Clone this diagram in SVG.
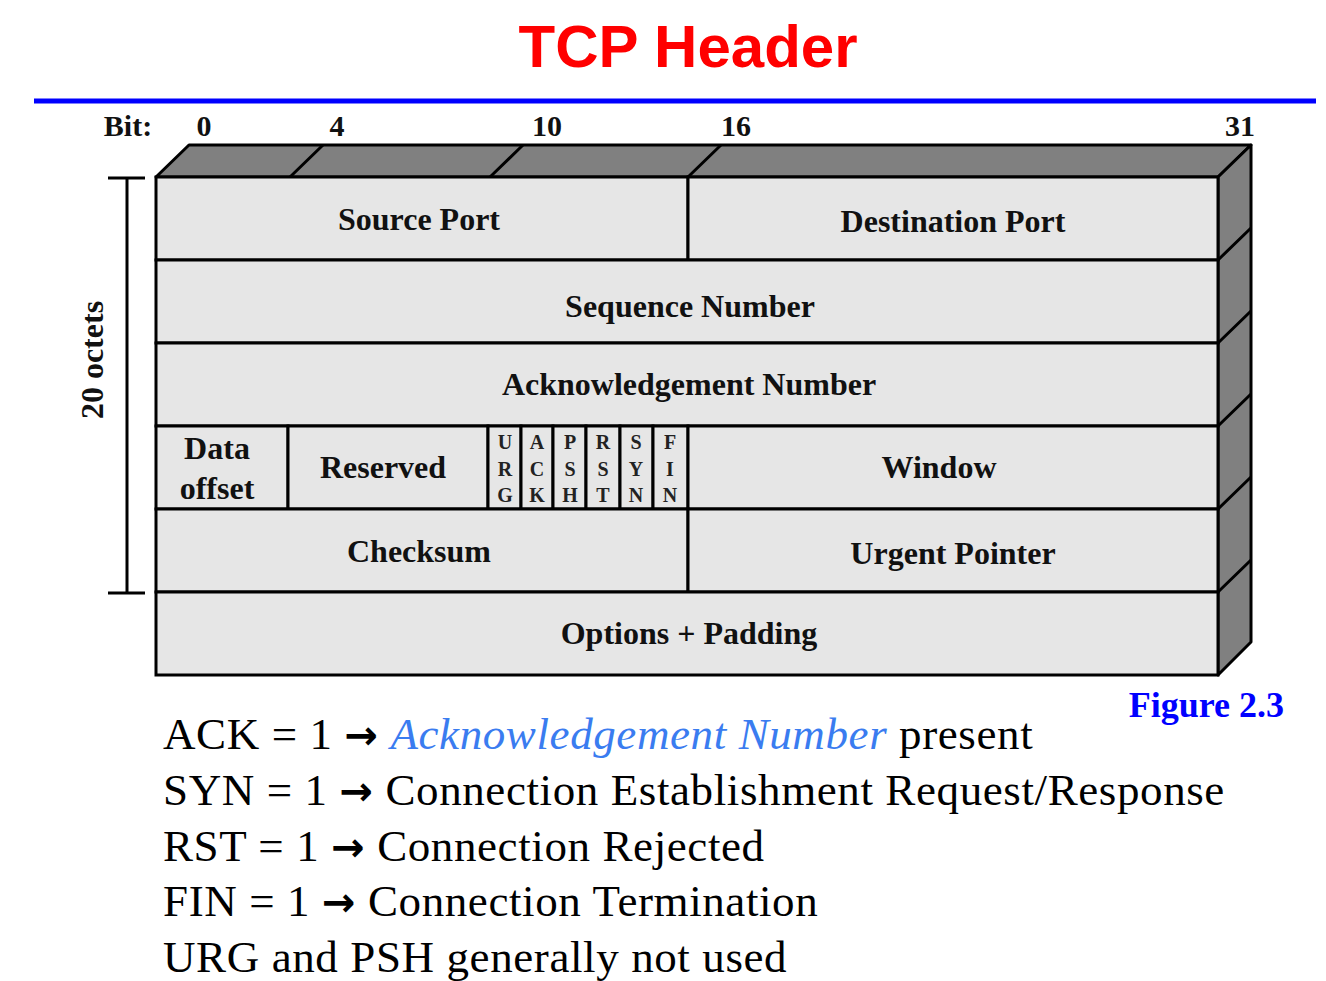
<svg xmlns="http://www.w3.org/2000/svg" width="1326" height="981" viewBox="0 0 1326 981">
<style>
.f{fill:#e6e6e6;stroke:#000;stroke-width:3}
.d{fill:#808080;stroke:#000;stroke-width:3;stroke-linejoin:round}
.l{stroke:#000;stroke-width:3;fill:none}
.t{font-family:"Liberation Serif",serif;font-weight:bold;font-size:32px;fill:#111;text-anchor:middle}
.s{font-family:"Liberation Serif",serif;font-weight:bold;font-size:20px;fill:#222;text-anchor:middle}
.b{font-family:"Liberation Serif",serif;font-size:45px;fill:#000;letter-spacing:0.6px}
.a{font-family:"DejaVu Sans",sans-serif;font-weight:bold;font-size:40px}
</style>
<rect width="1326" height="981" fill="#fff"/>
<text x="688" y="67" font-family="Liberation Sans,sans-serif" font-weight="bold" font-size="60" fill="#f00" text-anchor="middle">TCP Header</text>
<line x1="34" y1="101" x2="1316" y2="101" stroke="#00f" stroke-width="5"/>
<g class="t" style="font-size:30px">
<text x="128" y="136">Bit:</text><text x="204" y="136">0</text><text x="337" y="136">4</text><text x="547" y="136">10</text><text x="736" y="136">16</text><text x="1240" y="136">31</text>
</g>
<g id="box3d">
<polygon class="d" points="156,177 189,145 1251,145 1218,177"/>
<polygon class="d" points="1218,177 1251,145 1251,642 1218,675"/>
<g class="l"><path d="M290,177 L323,145 M490,177 L523,145 M688,177 L721,145 M1218,260 L1251,228 M1218,343 L1251,311 M1218,426 L1251,394 M1218,509 L1251,477 M1218,592 L1251,560"/></g>
</g>
<g id="bracket" class="l"><path d="M127,178 V593 M108,178 H145 M108,593 H145"/></g>
<text class="t" transform="translate(103,360) rotate(-90)">20 octets</text>
<g id="src"><rect class="f" x="156" y="177" width="532" height="83"/><text class="t" x="419" y="230">Source Port</text></g>
<g id="dst"><rect class="f" x="688" y="177" width="530" height="83"/><text class="t" x="953" y="232">Destination Port</text></g>
<g id="seq"><rect class="f" x="156" y="260" width="1062" height="83"/><text class="t" x="690" y="317">Sequence Number</text></g>
<g id="ack"><rect class="f" x="156" y="343" width="1062" height="83"/><text class="t" x="689" y="395">Acknowledgement Number</text></g>
<g id="doff"><rect class="f" x="156" y="426" width="132" height="83"/><text class="t" x="217" y="459">Data</text><text class="t" x="217" y="499">offset</text></g>
<g id="res"><rect class="f" x="288" y="426" width="200" height="83"/><text class="t" x="383" y="478">Reserved</text></g>
<g id="flags">
<rect class="f" x="488" y="426" width="33" height="83"/><rect class="f" x="521" y="426" width="32" height="83"/><rect class="f" x="553" y="426" width="33" height="83"/><rect class="f" x="586" y="426" width="34" height="83"/><rect class="f" x="620" y="426" width="33" height="83"/><rect class="f" x="653" y="426" width="35" height="83"/>
<g class="s">
<text x="505" y="449">U</text><text x="505" y="476">R</text><text x="505" y="502">G</text>
<text x="537" y="449">A</text><text x="537" y="476">C</text><text x="537" y="502">K</text>
<text x="570" y="449">P</text><text x="570" y="476">S</text><text x="570" y="502">H</text>
<text x="603" y="449">R</text><text x="603" y="476">S</text><text x="603" y="502">T</text>
<text x="636" y="449">S</text><text x="636" y="476">Y</text><text x="636" y="502">N</text>
<text x="670" y="449">F</text><text x="670" y="476">I</text><text x="670" y="502">N</text>
</g></g>
<g id="win"><rect class="f" x="688" y="426" width="530" height="83"/><text class="t" x="939" y="478">Window</text></g>
<g id="chk"><rect class="f" x="156" y="509" width="532" height="83"/><text class="t" x="419" y="562">Checksum</text></g>
<g id="urg"><rect class="f" x="688" y="509" width="530" height="83"/><text class="t" x="953" y="564">Urgent Pointer</text></g>
<g id="opt"><rect class="f" x="156" y="592" width="1062" height="83"/><text class="t" x="689" y="644">Options + Padding</text></g>
<text x="1284" y="717" font-family="Liberation Serif,serif" font-weight="bold" font-size="36" fill="#00f" text-anchor="end">Figure 2.3</text>
<g class="b">
<text x="163" y="749">ACK = 1 <tspan class="a">→</tspan> <tspan fill="#3a7cf0" font-style="italic">Acknowledgement Number</tspan> present</text>
<text x="163" y="805">SYN = 1 <tspan class="a">→</tspan> Connection Establishment Request/Response</text>
<text x="163" y="861">RST = 1 <tspan class="a">→</tspan> Connection Rejected</text>
<text x="163" y="916">FIN = 1 <tspan class="a">→</tspan> Connection Termination</text>
<text x="163" y="972">URG and PSH generally not used</text>
</g>
</svg>
